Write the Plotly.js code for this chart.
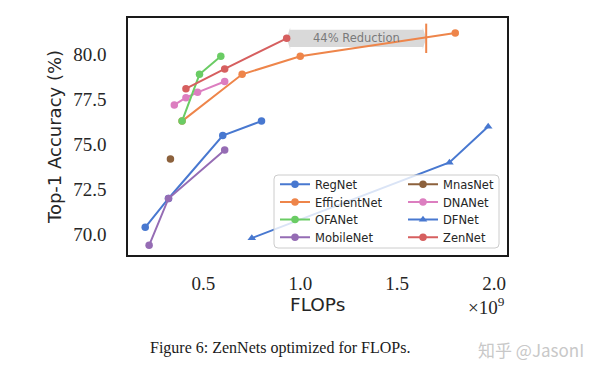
<!DOCTYPE html>
<html>
<head>
<meta charset="utf-8">
<script src="https://cdn.plot.ly/plotly-3.0.1.min.js"></script>
<style>html,body{margin:0;padding:0;background:#fff;}#chart{width:600px;height:377px;}</style>
</head>
<body>
<div id="chart"></div>
<script>
// ---- data (FLOPs in units of 1e9, Top-1 accuracy in %) ----
const regnetX = [0.20, 0.32, 0.60, 0.80];
const regnetY = [70.4, 72.0, 75.5, 76.3];
const effnetX = [0.39, 0.70, 1.00, 1.80];
const effnetY = [76.3, 78.9, 79.9, 81.2];
const ofaX = [0.39, 0.48, 0.59];
const ofaY = [76.3, 78.9, 79.9];
const mobileX = [0.22, 0.32, 0.61];
const mobileY = [69.4, 72.0, 74.7];
const mnasX = [0.33];
const mnasY = [74.2];
const dnaX = [0.35, 0.41, 0.47, 0.61];
const dnaY = [77.2, 77.6, 77.9, 78.5];
const dfX = [0.75, 1.77, 1.97];
const dfY = [69.8, 74.0, 76.0];
const zenX = [0.41, 0.61, 0.93];
const zenY = [78.1, 79.2, 80.9];
// reduction annotation: ZenNet top FLOPs vs EfficientNet FLOPs at equal accuracy
const reductionX = [0.93, 1.65];
const reductionY = [80.9];
const reductionText = '44% Reduction';
const xTicks = [0.5, 1.0, 1.5, 2.0];
const xTickText = ['0.5', '1.0', '1.5', '2.0'];
const yTicks = [70.0, 72.5, 75.0, 77.5, 80.0];
const yTickText = ['70.0', '72.5', '75.0', '77.5', '80.0'];

const C = {
  blue: '#4878d0', orange: '#ee854a', green: '#6acc64', purple: '#956cb4',
  brown: '#8c613c', pink: '#dc7ec0', red: '#d65f5f'
};

function series(name, x, y, color, legend, symbol) {
  return {
    type: 'scatter', mode: 'lines+markers', name: name, x: x, y: y,
    line: {color: color, width: 2},
    marker: {color: color, size: 7.5, symbol: symbol || 'circle'},
    legend: legend
  };
}

const traces = [
  series('RegNet', regnetX, regnetY, C.blue, 'legend', 'circle'),
  series('MnasNet', mnasX, mnasY, C.brown, 'legend', 'circle'),
  series('EfficientNet', effnetX, effnetY, C.orange, 'legend2', 'circle'),
  series('DNANet', dnaX, dnaY, C.pink, 'legend2', 'circle'),
  series('OFANet', ofaX, ofaY, C.green, 'legend3', 'circle'),
  series('DFNet', dfX, dfY, C.blue, 'legend3', 'triangle-up'),
  series('MobileNet', mobileX, mobileY, C.purple, 'legend4', 'circle'),
  series('ZenNet', zenX, zenY, C.red, 'legend4', 'circle'),
  {
    type: 'scatter', mode: 'markers', x: [reductionX[1]], y: reductionY,
    marker: {symbol: 'line-ns-open', size: 21, color: C.orange, line: {color: C.orange, width: 2}},
    showlegend: false, hoverinfo: 'skip'
  }
];

// darrow-like gray band
const bx0 = reductionX[0], bx1 = reductionX[1], by = reductionY[0];
const hh = 0.48, wing = 0.12, d = 0.018;
const bandPath = [
  'M', bx0, by, 'L', bx0 + d, by + hh + wing, 'L', bx0 + d, by + hh,
  'L', bx1 - d, by + hh, 'L', bx1 - d, by + hh + wing, 'L', bx1, by,
  'L', bx1 - d, by - hh - wing, 'L', bx1 - d, by - hh,
  'L', bx0 + d, by - hh, 'L', bx0 + d, by - hh - wing, 'Z'
].join(' ');

// legend frame (paper px -> fraction)
const W = 600, H = 377, ml = 128, mr = 93, mt = 18, mb = 122;
const pw = W - ml - mr, ph = H - mt - mb;
function px2x(p) { return (p - ml) / pw; }
function py2y(p) { return 1 - (p - mt) / ph; }
const fx0 = px2x(274), fx1 = px2x(499), fy0 = py2y(175), fy1 = py2y(248);
const r = 4;
const rx = r / pw, ry = r / ph;
const framePath = 'M ' + (fx0 + rx) + ' ' + fy0 +
  ' L ' + (fx1 - rx) + ' ' + fy0 + ' Q ' + fx1 + ' ' + fy0 + ' ' + fx1 + ' ' + (fy0 - ry) +
  ' L ' + fx1 + ' ' + (fy1 + ry) + ' Q ' + fx1 + ' ' + fy1 + ' ' + (fx1 - rx) + ' ' + fy1 +
  ' L ' + (fx0 + rx) + ' ' + fy1 + ' Q ' + fx0 + ' ' + fy1 + ' ' + fx0 + ' ' + (fy1 + ry) +
  ' L ' + fx0 + ' ' + (fy0 - ry) + ' Q ' + fx0 + ' ' + fy0 + ' ' + (fx0 + rx) + ' ' + fy0 + ' Z';

const legFont = {family: 'DejaVu Sans', size: 11.5, color: '#262626'};
function legendRow(cy) {
  return {
    orientation: 'h', x: px2x(275), xanchor: 'left', y: py2y(cy), yanchor: 'middle',
    bgcolor: 'rgba(0,0,0,0)', borderwidth: 0, font: legFont,
    entrywidth: 83, entrywidthmode: 'pixels', itemclick: false, itemdoubleclick: false
  };
}

const layout = {
  width: W, height: H,
  margin: {l: ml, r: mr, t: mt, b: mb, pad: 0},
  paper_bgcolor: '#ffffff', plot_bgcolor: '#ffffff',
  showlegend: true,
  xaxis: {
    range: [0.111, 2.067], tickvals: xTicks, ticktext: xTickText,
    showgrid: false, zeroline: false, ticks: '',
    showline: true, mirror: true, linecolor: '#1a1a1a', linewidth: 1.8,
    tickfont: {family: 'Liberation Serif', size: 19, color: '#262626'},
    ticklabelstandoff: 10
  },
  yaxis: {
    range: [68.86, 82.03], tickvals: yTicks, ticktext: yTickText,
    showgrid: false, zeroline: false, ticks: '',
    showline: true, mirror: true, linecolor: '#1a1a1a', linewidth: 1.8,
    tickfont: {family: 'Liberation Serif', size: 19, color: '#262626'},
    ticklabelstandoff: 16,
    title: {text: 'Top-1 Accuracy (%)', font: {family: 'DejaVu Sans', size: 18, color: '#262626'}, standoff: 7}
  },
  legend: legendRow(184.3),
  legend2: legendRow(202),
  legend3: legendRow(219.5),
  legend4: legendRow(237.3),
  shapes: [
    {type: 'path', xref: 'x', yref: 'y', path: bandPath, fillcolor: '#d9d9d9', line: {width: 0}, layer: 'below'},
    {type: 'path', xref: 'paper', yref: 'paper', path: framePath, fillcolor: 'rgba(255,255,255,0.8)',
     line: {color: '#cccccc', width: 1}, layer: 'above'}
  ],
  annotations: [
    {xref: 'x', yref: 'y', x: (bx0 + bx1) / 2, y: by, text: reductionText, showarrow: false,
     font: {family: 'DejaVu Sans', size: 11.5, color: '#7a7a7a'}, xanchor: 'center', yanchor: 'middle'},
    {xref: 'paper', yref: 'paper', x: 0.5, y: py2y(304), xanchor: 'center', yanchor: 'middle',
     text: 'FLOPs', showarrow: false,
     font: {family: 'DejaVu Sans', size: 18.5, color: '#262626'}},
    {xref: 'paper', yref: 'paper', x: 1, y: py2y(306), xanchor: 'right', yanchor: 'middle',
     text: '×10<sup>9</sup>', showarrow: false,
     font: {family: 'Liberation Serif', size: 19, color: '#262626'}},
    {xref: 'paper', yref: 'paper', x: px2x(280), y: py2y(348), xanchor: 'center', yanchor: 'middle',
     text: 'Figure 6: ZenNets optimized for FLOPs.', showarrow: false,
     font: {family: 'Liberation Serif', size: 16, color: '#1a1a1a'}},
    {xref: 'paper', yref: 'paper', x: px2x(531), y: py2y(349), xanchor: 'center', yanchor: 'middle',
     text: '知乎 @JasonI', showarrow: false,
     font: {family: 'Noto Sans CJK SC', size: 17, color: '#c8c8c8'}}
  ]
};

Plotly.newPlot('chart', traces, layout, {displayModeBar: false, staticPlot: true});
</script>
</body>
</html>
